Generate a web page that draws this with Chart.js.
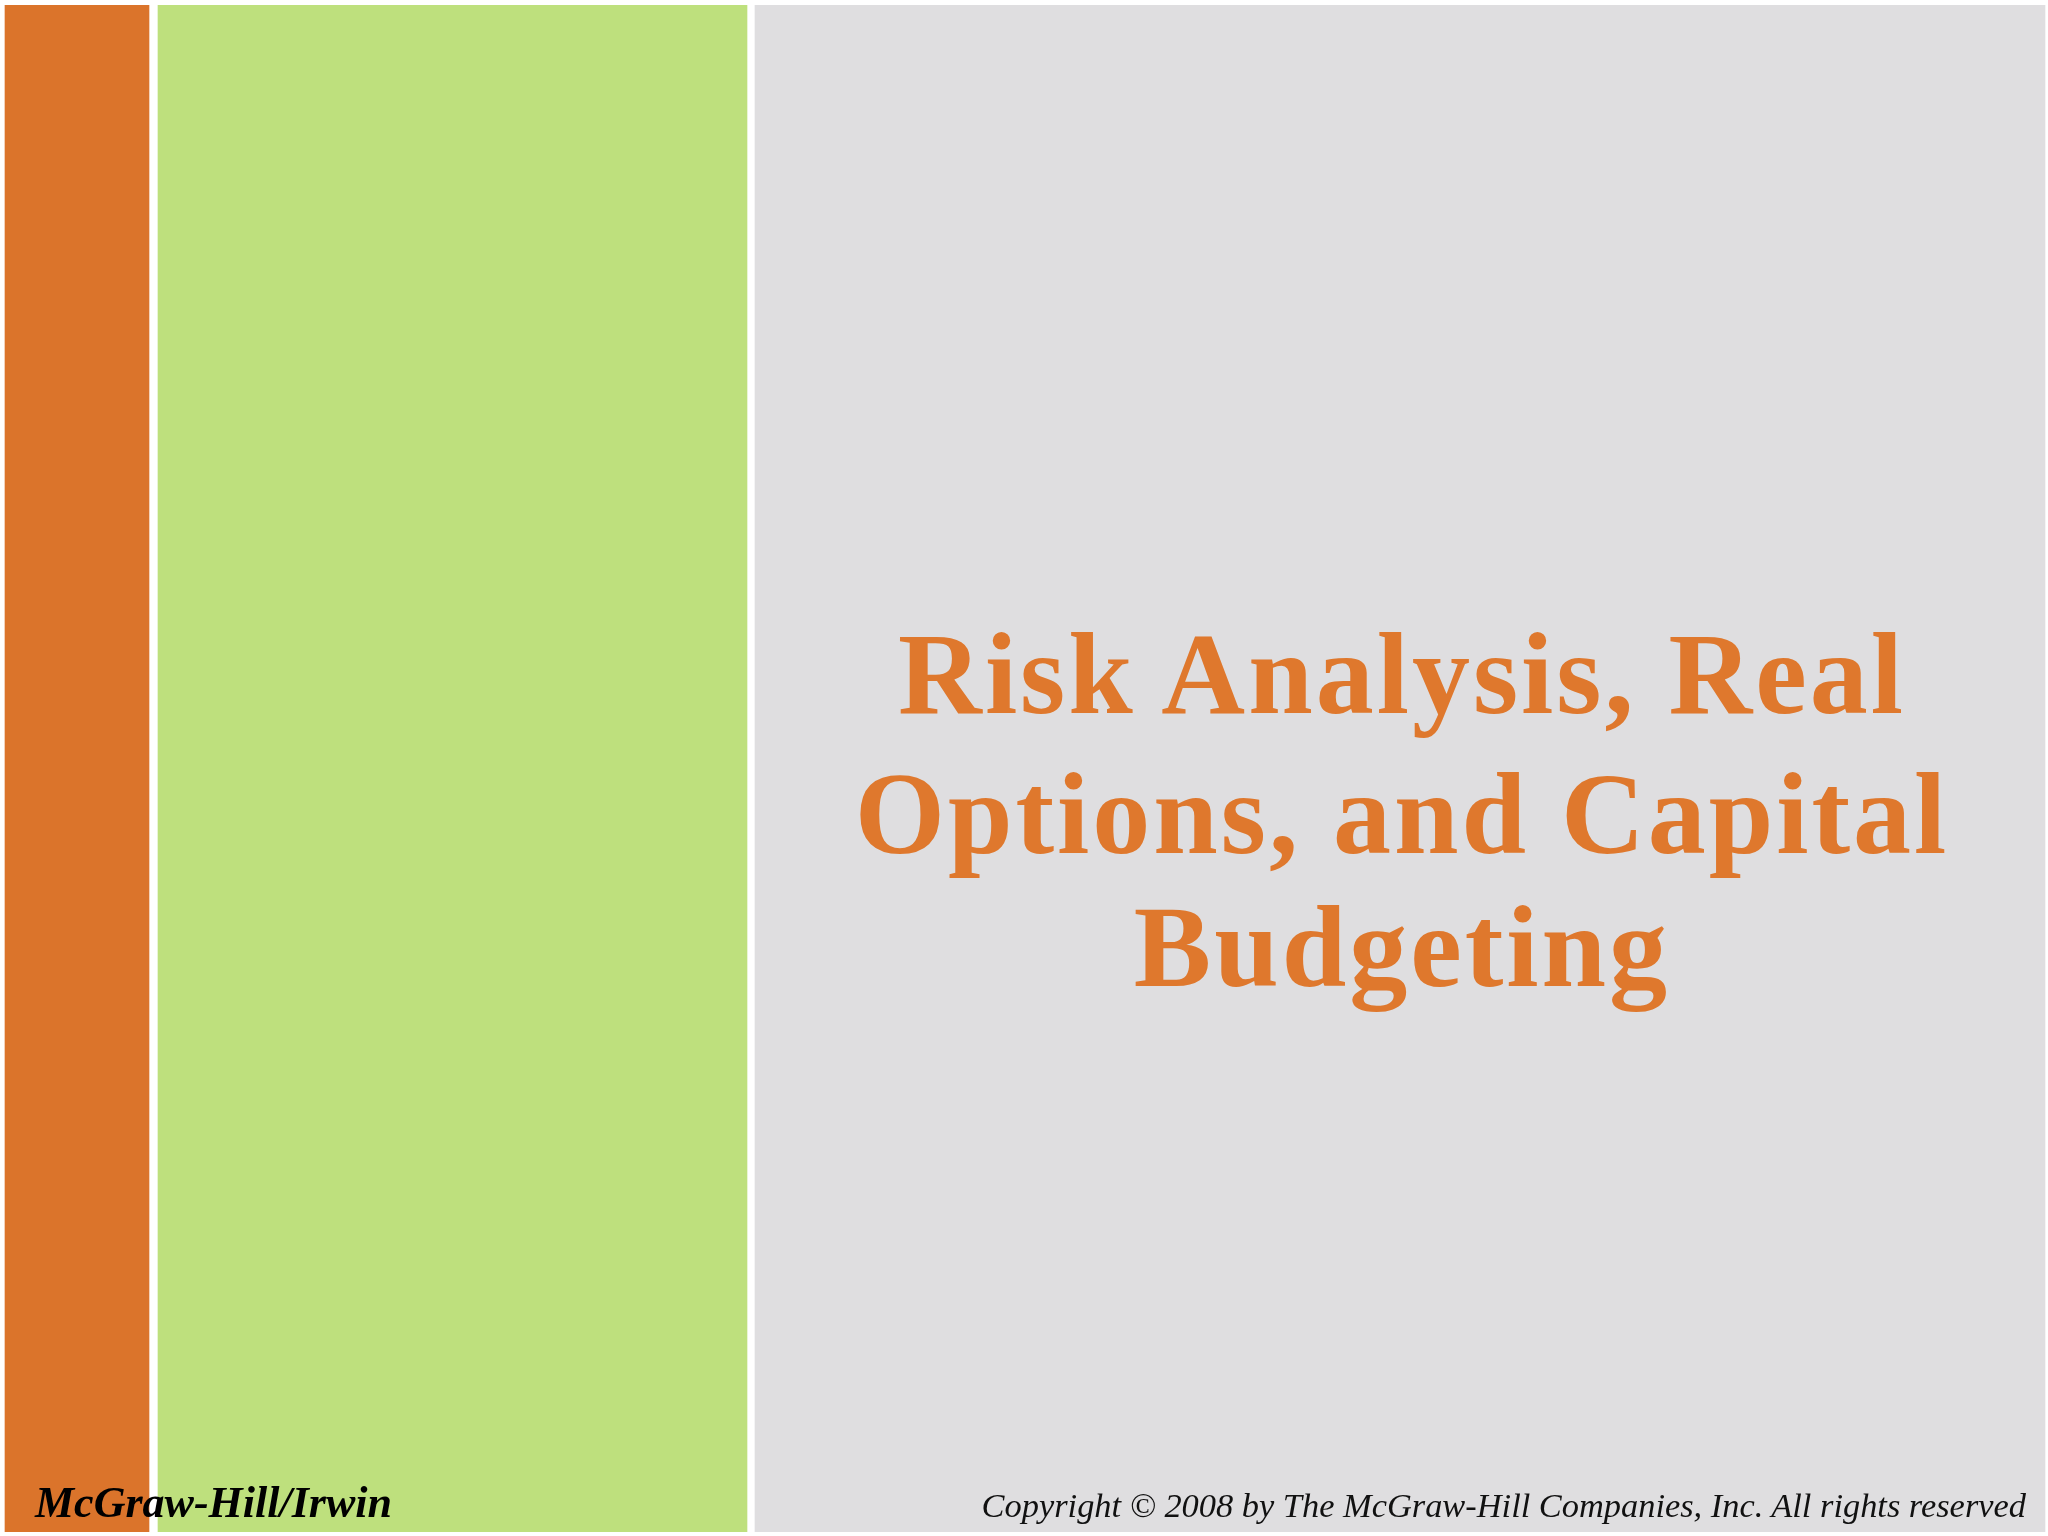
<!DOCTYPE html>
<html>
<head>
<meta charset="utf-8">
<title>Risk Analysis, Real Options, and Capital Budgeting</title>
<script src="https://cdn.jsdelivr.net/npm/chart.js@4.4.1/dist/chart.umd.min.js"></script>
<style>
  html, body { margin: 0; padding: 0; background: #ffffff; }
  #wrap { position: relative; width: 2048px; height: 1536px; overflow: hidden; }
  #slide { position: absolute; left: 0; top: 0; }
  .txt { position: absolute; line-height: 0; white-space: nowrap; font-family: "Liberation Serif", serif; }
  .title { left: 757px; width: 1290px; text-align: center; font-size: 116px; font-weight: bold; color: #df782d; letter-spacing: 3px; }
  .foot-left { left: 35px; font-size: 44px; font-weight: bold; font-style: italic; color: #000000; }
  .foot-right { right: 22px; font-size: 34.4px; font-style: italic; color: #111111; }
</style>
</head>
<body>
<div id="wrap">
  <canvas id="slide" width="2048" height="1536"></canvas>
  <div class="txt title" style="top:674px">Risk Analysis, Real</div>
  <div class="txt title" style="top:814px">Options, and Capital</div>
  <div class="txt title" style="top:947px">Budgeting</div>
  <div class="txt foot-left" style="top:1503px">McGraw-Hill/Irwin</div>
  <div class="txt foot-right" style="top:1505px">Copyright © 2008 by The McGraw-Hill Companies, Inc. All rights reserved</div>
</div>
<script>
  // slide panels, drawn as floating horizontal bars
  const panels = ['Orange band', 'Green band', 'Grey panel'];
  const panelStart = [5, 158, 755];
  const panelEnd = [149, 747, 2045];
  const panelColors = ['#db742b', '#bee07d', '#dfdee0'];

  const ctx = document.getElementById('slide').getContext('2d');
  new Chart(ctx, {
    type: 'bar',
    data: {
      labels: ['slide'],
      datasets: panels.map((name, i) => ({
        label: name,
        data: [[panelStart[i], panelEnd[i]]],
        backgroundColor: panelColors[i],
        borderWidth: 0,
        grouped: false,
        barPercentage: 1,
        categoryPercentage: 1
      }))
    },
    options: {
      indexAxis: 'y',
      responsive: false,
      animation: false,
      devicePixelRatio: 1,
      layout: { padding: { top: 5, bottom: 4, left: 0, right: 0 } },
      plugins: { legend: { display: false }, tooltip: { enabled: false } },
      scales: {
        x: { type: 'linear', min: 0, max: 2048, display: false },
        y: { display: false }
      }
    }
  });
</script>
</body>
</html>
